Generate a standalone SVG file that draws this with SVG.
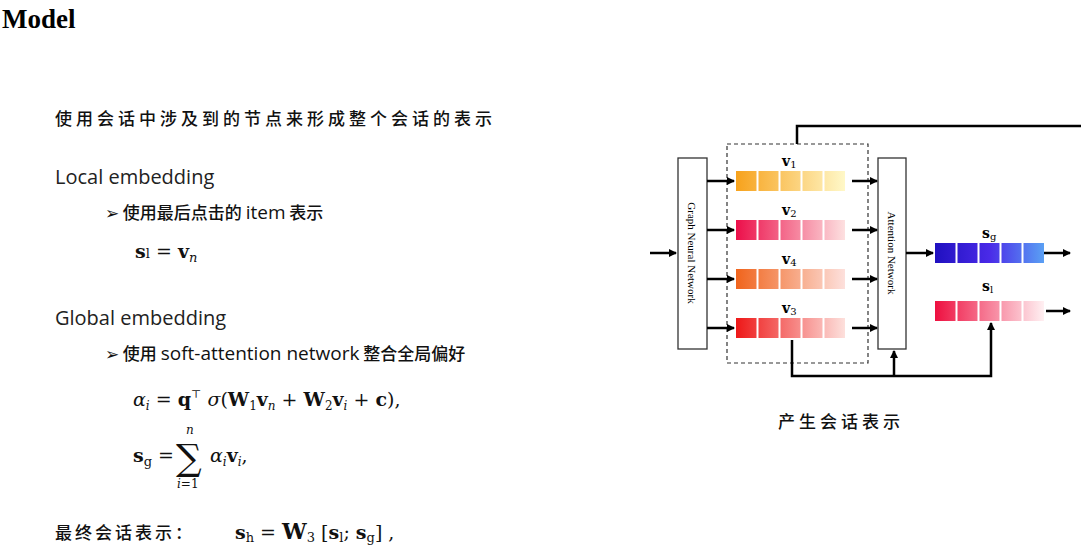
<svg xmlns="http://www.w3.org/2000/svg" width="1081" height="554" viewBox="0 0 1081 554">
<defs>
<marker id="a" markerWidth="8" markerHeight="8" refX="7" refY="4" orient="auto" markerUnits="userSpaceOnUse"><path d="M0,0 L8,4 L0,8 z" fill="#000"/></marker>
<linearGradient id="gy" x1="0" x2="1"><stop offset="0" stop-color="#f7a21c"/><stop offset="1" stop-color="#fff8c8"/></linearGradient>
<linearGradient id="gp" x1="0" x2="1"><stop offset="0" stop-color="#ec0f4a"/><stop offset="1" stop-color="#fde0e0"/></linearGradient>
<linearGradient id="go" x1="0" x2="1"><stop offset="0" stop-color="#f0641c"/><stop offset="1" stop-color="#fde0dc"/></linearGradient>
<linearGradient id="gr" x1="0" x2="1"><stop offset="0" stop-color="#ee1818"/><stop offset="1" stop-color="#fde0dc"/></linearGradient>
<linearGradient id="gb" x1="0" x2="1"><stop offset="0" stop-color="#2010c0"/><stop offset="0.5" stop-color="#4a2ae8"/><stop offset="1" stop-color="#5aa0f4"/></linearGradient>
<linearGradient id="gl" x1="0" x2="1"><stop offset="0" stop-color="#ee1040"/><stop offset="1" stop-color="#fff0f2"/></linearGradient>
</defs>
<style>
.t{font-family:"Noto Sans CJK SC","Noto Sans",sans-serif;font-size:17px;fill:#111;font-weight:500}
.s{font-family:"Open Sans","Noto Sans",sans-serif;font-size:20px;fill:#222}
.m{font-family:"DejaVu Serif","Liberation Serif",serif;fill:#111}
.box{fill:#fff;stroke:#333;stroke-width:1.3}
.c line,.c path{stroke:#000;stroke-width:2.5;fill:none}
.lab{font-family:"DejaVu Serif",serif;font-size:14px;font-weight:bold}
</style>
<text x="2" y="28" font-family="Liberation Serif,serif" font-weight="bold" font-size="27">Model</text>
<text class="t" x="55" y="125" letter-spacing="4">使用会话中涉及到的节点来形成整个会话的表示</text>
<text class="s" x="55" y="184">Local embedding</text>
<text class="t" x="105" y="219">➢ 使用最后点击的 <tspan font-family="Open Sans,sans-serif" font-size="19" font-weight="400">item</tspan> 表示</text>
<text class="m" font-size="19" x="135" y="258"><tspan font-weight="bold">s</tspan><tspan font-size="13">l</tspan> = <tspan font-weight="bold">v</tspan><tspan font-style="italic" font-size="13" dy="4">n</tspan></text>
<text class="s" x="55" y="325">Global embedding</text>
<text class="t" x="105" y="360">➢ 使用 <tspan font-family="Open Sans,sans-serif" font-size="19" font-weight="400">soft-attention network</tspan> 整合全局偏好</text>
<text class="m" font-size="19" x="133" y="406"><tspan font-style="italic">α</tspan><tspan font-style="italic" font-size="12" dy="4">i</tspan><tspan dy="-4"> = </tspan><tspan font-weight="bold">q</tspan><tspan font-size="11" dy="-8">⊤</tspan><tspan dy="8"> </tspan><tspan font-style="italic">σ</tspan>(<tspan font-weight="bold">W</tspan><tspan font-size="12" dy="4">1</tspan><tspan font-weight="bold" dy="-4">v</tspan><tspan font-style="italic" font-size="12" dy="4">n</tspan><tspan dy="-4"> + </tspan><tspan font-weight="bold">W</tspan><tspan font-size="12" dy="4">2</tspan><tspan font-weight="bold" dy="-4">v</tspan><tspan font-style="italic" font-size="12" dy="4">i</tspan><tspan dy="-4"> + </tspan><tspan font-weight="bold">c</tspan>),</text>
<text class="m" font-size="19" x="133" y="462"><tspan font-weight="bold">s</tspan><tspan font-size="13" dy="4">g</tspan><tspan dy="-4"> = </tspan></text>
<text class="m" x="176" y="470" font-size="36">∑</text>
<text class="m" x="186" y="434" font-size="12" font-style="italic">n</text>
<text class="m" x="177" y="488" font-size="12"><tspan font-style="italic">i</tspan>=1</text>
<text class="m" font-size="19" x="210" y="462"><tspan font-style="italic">α</tspan><tspan font-style="italic" font-size="12" dy="4">i</tspan><tspan font-weight="bold" dy="-4">v</tspan><tspan font-style="italic" font-size="12" dy="4">i</tspan><tspan dy="-4">,</tspan></text>
<text class="t" x="55" y="539" letter-spacing="3">最终会话表示：</text>
<text class="m" font-size="19" x="235" y="539"><tspan font-weight="bold">s</tspan><tspan font-size="13" dy="3">h</tspan><tspan dy="-3"> = </tspan><tspan font-weight="bold" font-size="22">W</tspan><tspan font-size="13" dy="3">3</tspan><tspan dy="-3"> [</tspan><tspan font-weight="bold">s</tspan><tspan font-size="13" dy="3">l</tspan><tspan dy="-3">; </tspan><tspan font-weight="bold">s</tspan><tspan font-size="13" dy="3">g</tspan><tspan dy="-3">] ,</tspan></text>
<text class="t" x="778" y="428" letter-spacing="4">产生会话表示</text>

<g id="dashed"><rect x="727" y="144" width="141" height="219" fill="none" stroke="#333" stroke-width="1.2" stroke-dasharray="4,3"/></g>
<g id="gnn"><rect class="box" x="678" y="158" width="29" height="191"/><text transform="translate(688,253) rotate(90)" text-anchor="middle" font-family="Liberation Serif,serif" font-size="11">Graph Neural Network</text></g>
<g id="att"><rect class="box" x="878" y="158" width="28" height="191"/><text transform="translate(888,253) rotate(90)" text-anchor="middle" font-family="Liberation Serif,serif" font-size="11">Attention Network</text></g>
<g id="v1"><rect x="736" y="171" width="109" height="20" fill="url(#gy)"/><text class="lab" x="782" y="166">v<tspan font-size="10" font-weight="normal" dy="2">1</tspan></text></g>
<g id="v2"><rect x="736" y="220" width="109" height="20" fill="url(#gp)"/><text class="lab" x="782" y="215">v<tspan font-size="10" font-weight="normal" dy="2">2</tspan></text></g>
<g id="v4"><rect x="736" y="269" width="109" height="20" fill="url(#go)"/><text class="lab" x="782" y="264">v<tspan font-size="10" font-weight="normal" dy="2">4</tspan></text></g>
<g id="v3"><rect x="736" y="318" width="109" height="20" fill="url(#gr)"/><text class="lab" x="782" y="313">v<tspan font-size="10" font-weight="normal" dy="2">3</tspan></text></g>
<g id="sg"><rect x="935" y="243" width="109" height="20" fill="url(#gb)"/><text class="lab" x="982" y="238">s<tspan font-size="10" font-weight="normal" dy="2">g</tspan></text></g>
<g id="sl"><rect x="935" y="301" width="109" height="20" fill="url(#gl)"/><text class="lab" x="982" y="291">s<tspan font-size="10" font-weight="normal" dy="2">l</tspan></text></g>
<g id="seps">
<path d="M757.5,168v173M779.5,168v173M801.5,168v173M823.5,168v173M956.5,240v84M978.5,240v84M1000.5,240v84M1022.5,240v84" stroke="#fff" stroke-width="2"/>
</g>
<g id="connectors" class="c">
<line x1="650" y1="253" x2="676" y2="253" marker-end="url(#a)"/>
<line x1="707" y1="181" x2="734" y2="181" marker-end="url(#a)"/>
<line x1="707" y1="230" x2="734" y2="230" marker-end="url(#a)"/>
<line x1="707" y1="279" x2="734" y2="279" marker-end="url(#a)"/>
<line x1="707" y1="328" x2="734" y2="328" marker-end="url(#a)"/>
<line x1="852" y1="181" x2="877" y2="181" marker-end="url(#a)"/>
<line x1="852" y1="230" x2="877" y2="230" marker-end="url(#a)"/>
<line x1="852" y1="279" x2="877" y2="279" marker-end="url(#a)"/>
<line x1="852" y1="328" x2="877" y2="328" marker-end="url(#a)"/>
<line x1="906" y1="253" x2="933" y2="253" marker-end="url(#a)"/>
<line x1="1044" y1="253" x2="1070" y2="253" marker-end="url(#a)"/>
<line x1="1046" y1="311" x2="1070" y2="311" marker-end="url(#a)"/>
<path d="M797,144 V126 H1081"/>
<path d="M792,340 V376 H991 V323" marker-end="url(#a)"/>
<path d="M894,376 V351" marker-end="url(#a)"/>
</g>
</svg>
